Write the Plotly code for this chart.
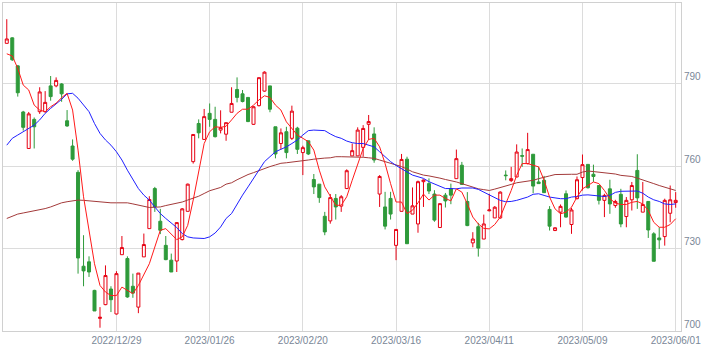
import pandas as pd
import plotly.graph_objects as go

# Trading calendar (Tokyo market holidays excluded)
holidays = ["2023-01-02", "2023-01-03", "2023-01-09", "2023-02-23",
            "2023-03-21", "2023-05-03", "2023-05-04", "2023-05-05"]
days = [d for d in pd.bdate_range("2022-12-01", "2023-06-01")
        if d.strftime("%Y-%m-%d") not in holidays]
dates = [d.strftime("%Y/%m/%d") for d in days]

tick_labels = ["2022/12/29", "2023/01/26", "2023/02/20", "2023/03/16",
               "2023/04/11", "2023/05/09", "2023/06/01"]

opens = [804.8, 806.8, 796.6, 779.8, 766.5, 777.1, 779.9, 779.9, 789.3, 789.3,
         790.0, 776.6, 767.4, 757.8, 723.6, 725.2, 714.8, 704.6, 709.6, 715.3,
         706.2, 727.8, 726.4, 716.3, 708.7, 727.0, 737.3, 751.9, 740.0, 731.2,
         725.8, 725.5, 733.3, 743.6, 761.7, 775.6, 769.8, 779.3, 777.1, 773.2,
         771.7, 779.7, 788.0, 786.4, 785.1, 775.3, 782.1, 787.4, 789.3, 774.4,
         768.3, 772.6, 770.2, 773.9, 765.0, 769.3, 755.2, 753.5, 741.8, 740.1,
         748.3, 745.5, 751.9, 763.8, 763.8, 766.9, 775.3, 771.8, 749.9, 745.2,
         748.3, 731.2, 743.6, 762.6, 742.6, 739.0, 754.4, 753.7, 749.9, 737.7,
         749.5, 751.9, 755.5, 760.4, 747.2, 732.1, 738.0, 733.5, 743.8, 741.2,
         741.2, 756.8, 754.8, 756.1, 763.9, 761.0, 764.4, 754.3, 754.9, 744.3,
         736.6, 743.3, 750.0, 738.8, 748.2, 755.9, 760.7, 757.1, 753.0, 747.6,
         751.8, 745.7, 749.8, 741.7, 747.8, 758.5, 743.3, 747.2, 735.4, 733.9,
         734.4, 742.9, 746.8]
highs = [813.6, 807.0, 796.8, 780.2, 779.8, 777.8, 788.8, 787.4, 792.9, 792.4,
         790.3, 780.5, 769.8, 758.6, 734.9, 727.2, 715.0, 708.7, 723.9, 716.3,
         721.8, 734.6, 727.2, 720.9, 721.1, 735.5, 749.1, 752.5, 744.5, 734.6,
         728.2, 739.5, 744.8, 753.7, 771.6, 777.1, 780.9, 782.9, 781.7, 780.4,
         775.9, 788.8, 792.4, 787.8, 785.1, 781.9, 792.3, 794.6, 789.3, 774.4,
         773.8, 774.4, 782.1, 774.4, 767.5, 769.3, 757.2, 753.5, 743.4, 749.9,
         749.9, 749.5, 758.9, 768.3, 774.2, 775.0, 778.7, 774.2, 756.8, 750.7,
         750.7, 737.0, 764.5, 763.5, 752.3, 754.8, 755.2, 755.6, 751.3, 746.4,
         750.3, 753.7, 766.1, 761.6, 750.6, 736.0, 739.4, 742.4, 750.0, 745.5,
         750.9, 758.5, 759.8, 768.0, 766.5, 772.2, 764.4, 759.8, 756.5, 745.5,
         737.8, 746.1, 751.2, 744.9, 756.3, 764.3, 760.7, 760.6, 753.0, 750.0,
         755.1, 747.8, 751.8, 748.8, 754.3, 764.4, 754.3, 747.2, 736.0, 737.8,
         748.2, 753.0, 750.6]
lows = [804.8, 798.4, 785.4, 773.0, 766.5, 766.5, 779.1, 779.5, 783.9, 788.8,
        783.5, 774.4, 762.0, 720.9, 716.3, 719.7, 707.3, 701.2, 709.4, 706.9,
        706.0, 727.8, 712.1, 712.1, 706.5, 727.0, 737.3, 743.4, 735.3, 725.8,
        721.5, 721.5, 733.0, 743.6, 761.0, 770.2, 769.6, 774.4, 770.5, 772.0,
        769.3, 779.7, 783.3, 783.3, 776.1, 775.1, 781.8, 787.2, 779.7, 762.9,
        766.2, 762.9, 769.6, 764.5, 756.8, 764.1, 749.9, 746.7, 734.9, 739.1,
        740.6, 743.4, 751.7, 763.8, 763.8, 763.5, 769.6, 761.3, 745.2, 737.0,
        740.6, 725.8, 743.6, 731.8, 742.6, 735.8, 745.2, 749.9, 739.8, 737.7,
        745.0, 746.2, 755.5, 753.2, 738.2, 730.5, 727.1, 733.5, 743.6, 741.2,
        740.9, 754.9, 754.3, 756.1, 759.8, 760.7, 750.2, 753.7, 750.3, 736.6,
        736.4, 737.8, 741.3, 735.4, 748.0, 751.2, 751.9, 754.3, 746.1, 741.5,
        742.7, 744.9, 737.8, 737.8, 743.9, 744.5, 743.3, 733.9, 725.4, 729.9,
        731.1, 739.6, 744.9]
closes = [806.4, 798.8, 786.8, 774.2, 779.1, 774.4, 787.1, 783.3, 785.4, 791.3,
          786.4, 774.7, 762.6, 726.6, 721.9, 721.5, 707.3, 705.0, 720.2, 711.4,
          720.9, 730.4, 712.4, 713.8, 721.1, 731.5, 747.9, 745.2, 736.7, 726.0,
          721.5, 739.5, 744.5, 753.5, 771.6, 772.2, 778.1, 777.1, 770.8, 774.1,
          775.9, 782.9, 785.1, 783.6, 776.3, 781.7, 792.3, 794.3, 780.8, 764.5,
          772.2, 765.0, 780.1, 766.2, 766.8, 764.5, 752.5, 748.6, 736.1, 748.6,
          745.2, 748.9, 758.4, 765.7, 773.2, 773.8, 776.3, 762.3, 756.3, 738.2,
          742.6, 737.0, 762.5, 731.8, 745.6, 754.4, 755.0, 751.0, 740.4, 746.4,
          747.4, 749.5, 762.8, 753.4, 738.4, 733.5, 730.2, 739.0, 744.1, 745.1,
          750.6, 756.6, 755.5, 765.2, 763.7, 766.1, 752.8, 753.7, 750.4, 738.2,
          737.6, 745.4, 741.5, 744.1, 755.1, 760.6, 752.2, 756.3, 747.6, 749.4,
          746.3, 747.2, 739.0, 747.6, 753.0, 748.5, 746.1, 736.8, 725.4, 733.2,
          747.6, 747.8, 747.6]

ma_short = [801.0, 800.2, 795.7, 789.6, 787.8, 782.3, 780.5, 779.9, 781.7, 783.0,
            785.0, 786.6, 780.5, 765.9, 748.9, 736.7, 724.5, 716.6, 714.2, 712.9,
            712.9, 716.0, 714.8, 713.6, 716.6, 720.3, 724.5, 730.6, 736.7, 737.3,
            735.1, 733.3, 734.3, 738.5, 747.7, 758.6, 768.3, 772.6, 774.4, 774.2,
            774.6, 776.9, 779.3, 780.8, 780.8, 782.3, 784.2, 785.7, 785.1, 782.3,
            780.5, 776.2, 773.8, 771.4, 770.2, 769.0, 765.9, 758.6, 752.5, 748.9,
            745.8, 745.8, 748.9, 754.9, 761.0, 766.5, 769.8, 770.2, 767.1, 761.0,
            753.7, 747.0, 747.0, 742.8, 744.0, 746.7, 749.9, 747.7, 749.5, 749.5,
            748.3, 747.4, 751.8, 750.6, 746.3, 741.5, 739.0, 737.4, 737.2, 738.8,
            741.5, 746.3, 751.2, 756.7, 761.0, 761.0, 760.4, 759.8, 754.9, 748.8,
            744.5, 742.7, 743.3, 745.1, 748.8, 751.8, 753.0, 754.3, 753.7, 751.2,
            748.2, 746.6, 746.1, 746.1, 746.9, 747.2, 746.3, 743.9, 739.6, 737.8,
            737.8, 738.8, 740.9]
ma_mid = [767.7, 770.2, 771.4, 772.6, 773.8, 775.0, 776.9, 779.3, 781.1, 782.7,
          784.4, 786.4, 786.6, 784.8, 782.3, 779.9, 775.6, 772.0, 769.6, 767.7,
          765.3, 762.3, 758.6, 755.0, 751.9, 749.5, 747.7, 745.2, 742.8, 741.0,
          739.4, 737.7, 735.5, 734.3, 733.9, 733.7, 733.7, 734.3, 735.7, 737.9,
          741.0, 742.8, 746.4, 749.5, 752.5, 755.6, 758.6, 761.7, 763.5, 765.3,
          766.2, 767.1, 768.3, 769.6, 771.4, 773.0, 773.2, 773.2, 773.0, 771.8,
          770.8, 770.2, 769.2, 768.6, 768.3, 768.3, 767.7, 767.1, 765.3, 763.5,
          761.7, 760.3, 759.2, 758.0, 756.8, 756.2, 755.6, 754.4, 753.5, 752.8,
          751.9, 751.9, 751.8, 752.1, 752.2, 752.1, 751.6, 750.6, 749.4, 748.4,
          747.6, 747.1, 747.2, 747.6, 748.2, 748.8, 749.8, 750.0, 749.4, 748.8,
          748.5, 748.2, 748.2, 748.8, 749.0, 749.5, 749.6, 749.4, 749.1, 749.0,
          749.4, 750.5, 750.9, 750.9, 751.0, 751.0, 750.2, 748.8, 747.8, 747.2,
          746.3, 746.1, 746.3]
ma_long = [741.0, 741.8, 742.6, 743.0, 743.4, 743.7, 744.0, 744.6, 745.2, 746.0,
           746.7, 747.1, 747.4, 747.7, 747.6, 747.4, 747.2, 746.9, 746.8, 746.7,
           746.7, 746.7, 746.7, 746.3, 745.8, 745.4, 745.0, 745.1, 745.2, 745.7,
           746.1, 746.4, 747.0, 747.7, 748.4, 749.1, 750.1, 751.1, 751.7, 752.3,
           753.5, 754.0, 755.1, 756.2, 757.0, 757.7, 758.5, 759.2, 759.9, 760.5,
           761.1, 761.3, 761.5, 761.7, 762.0, 762.3, 762.6, 762.9, 763.0, 763.1,
           763.5, 763.5, 763.5, 763.5, 763.4, 763.3, 763.1, 762.9, 762.3, 761.7,
           761.1, 760.5, 759.9, 759.0, 758.0, 757.4, 756.8, 756.5, 756.2, 755.7,
           755.2, 754.8, 754.3, 753.7, 753.0, 752.4, 751.8, 751.5, 751.2, 751.7,
           752.2, 752.8, 753.4, 754.0, 754.3, 754.6, 754.9, 755.5, 756.1, 756.5,
           757.0, 757.1, 757.1, 757.1, 757.1, 757.9, 758.3, 758.1, 757.9, 757.8,
           757.6, 757.2, 756.7, 756.5, 756.3, 755.7, 755.1, 754.4, 753.7, 753.0,
           752.4, 751.8, 751.2]

y_ticks = [700, 730, 760, 790]

UP = "#e60012"
DOWN = "#2e9a3a"

fig = go.Figure()
fig.add_trace(go.Candlestick(
    x=dates, open=opens, high=highs, low=lows, close=closes,
    increasing=dict(line=dict(color=UP, width=1), fillcolor="white"),
    decreasing=dict(line=dict(color=DOWN, width=1), fillcolor=DOWN),
    whiskerwidth=0, showlegend=False, hoverinfo="skip"))
fig.add_trace(go.Scatter(x=dates, y=ma_long, mode="lines",
                         line=dict(color="#a33a3a", width=1), showlegend=False, hoverinfo="skip"))
fig.add_trace(go.Scatter(x=dates, y=ma_mid, mode="lines",
                         line=dict(color="#2020ff", width=1), showlegend=False, hoverinfo="skip"))
fig.add_trace(go.Scatter(x=dates, y=ma_short, mode="lines",
                         line=dict(color="#ff1a1a", width=1), showlegend=False, hoverinfo="skip"))

fig.update_layout(
    width=719, height=352,
    margin=dict(l=3, r=38, t=3, b=21),
    paper_bgcolor="white", plot_bgcolor="white",
    boxgap=0.22,
    font=dict(family="Liberation Sans, Arial, sans-serif", size=10, color="#7a8797"),
    xaxis=dict(type="category", range=[-0.69, 122.97], rangeslider=dict(visible=False),
               tickmode="array", tickvals=tick_labels, ticktext=tick_labels,
               showgrid=True, gridcolor="#dcdcdc", gridwidth=1,
               showline=True, linecolor="#d0d0d0", linewidth=1, mirror=True,
               ticks="", zeroline=False, tickangle=0),
    yaxis=dict(side="right", range=[700, 819.5], tickvals=y_ticks,
               showgrid=True, gridcolor="#dcdcdc", gridwidth=1,
               showline=True, linecolor="#d0d0d0", linewidth=1, mirror=True,
               ticks="", zeroline=False, ticklabelposition="outside top"),
)

fig.write_html("out.html")
